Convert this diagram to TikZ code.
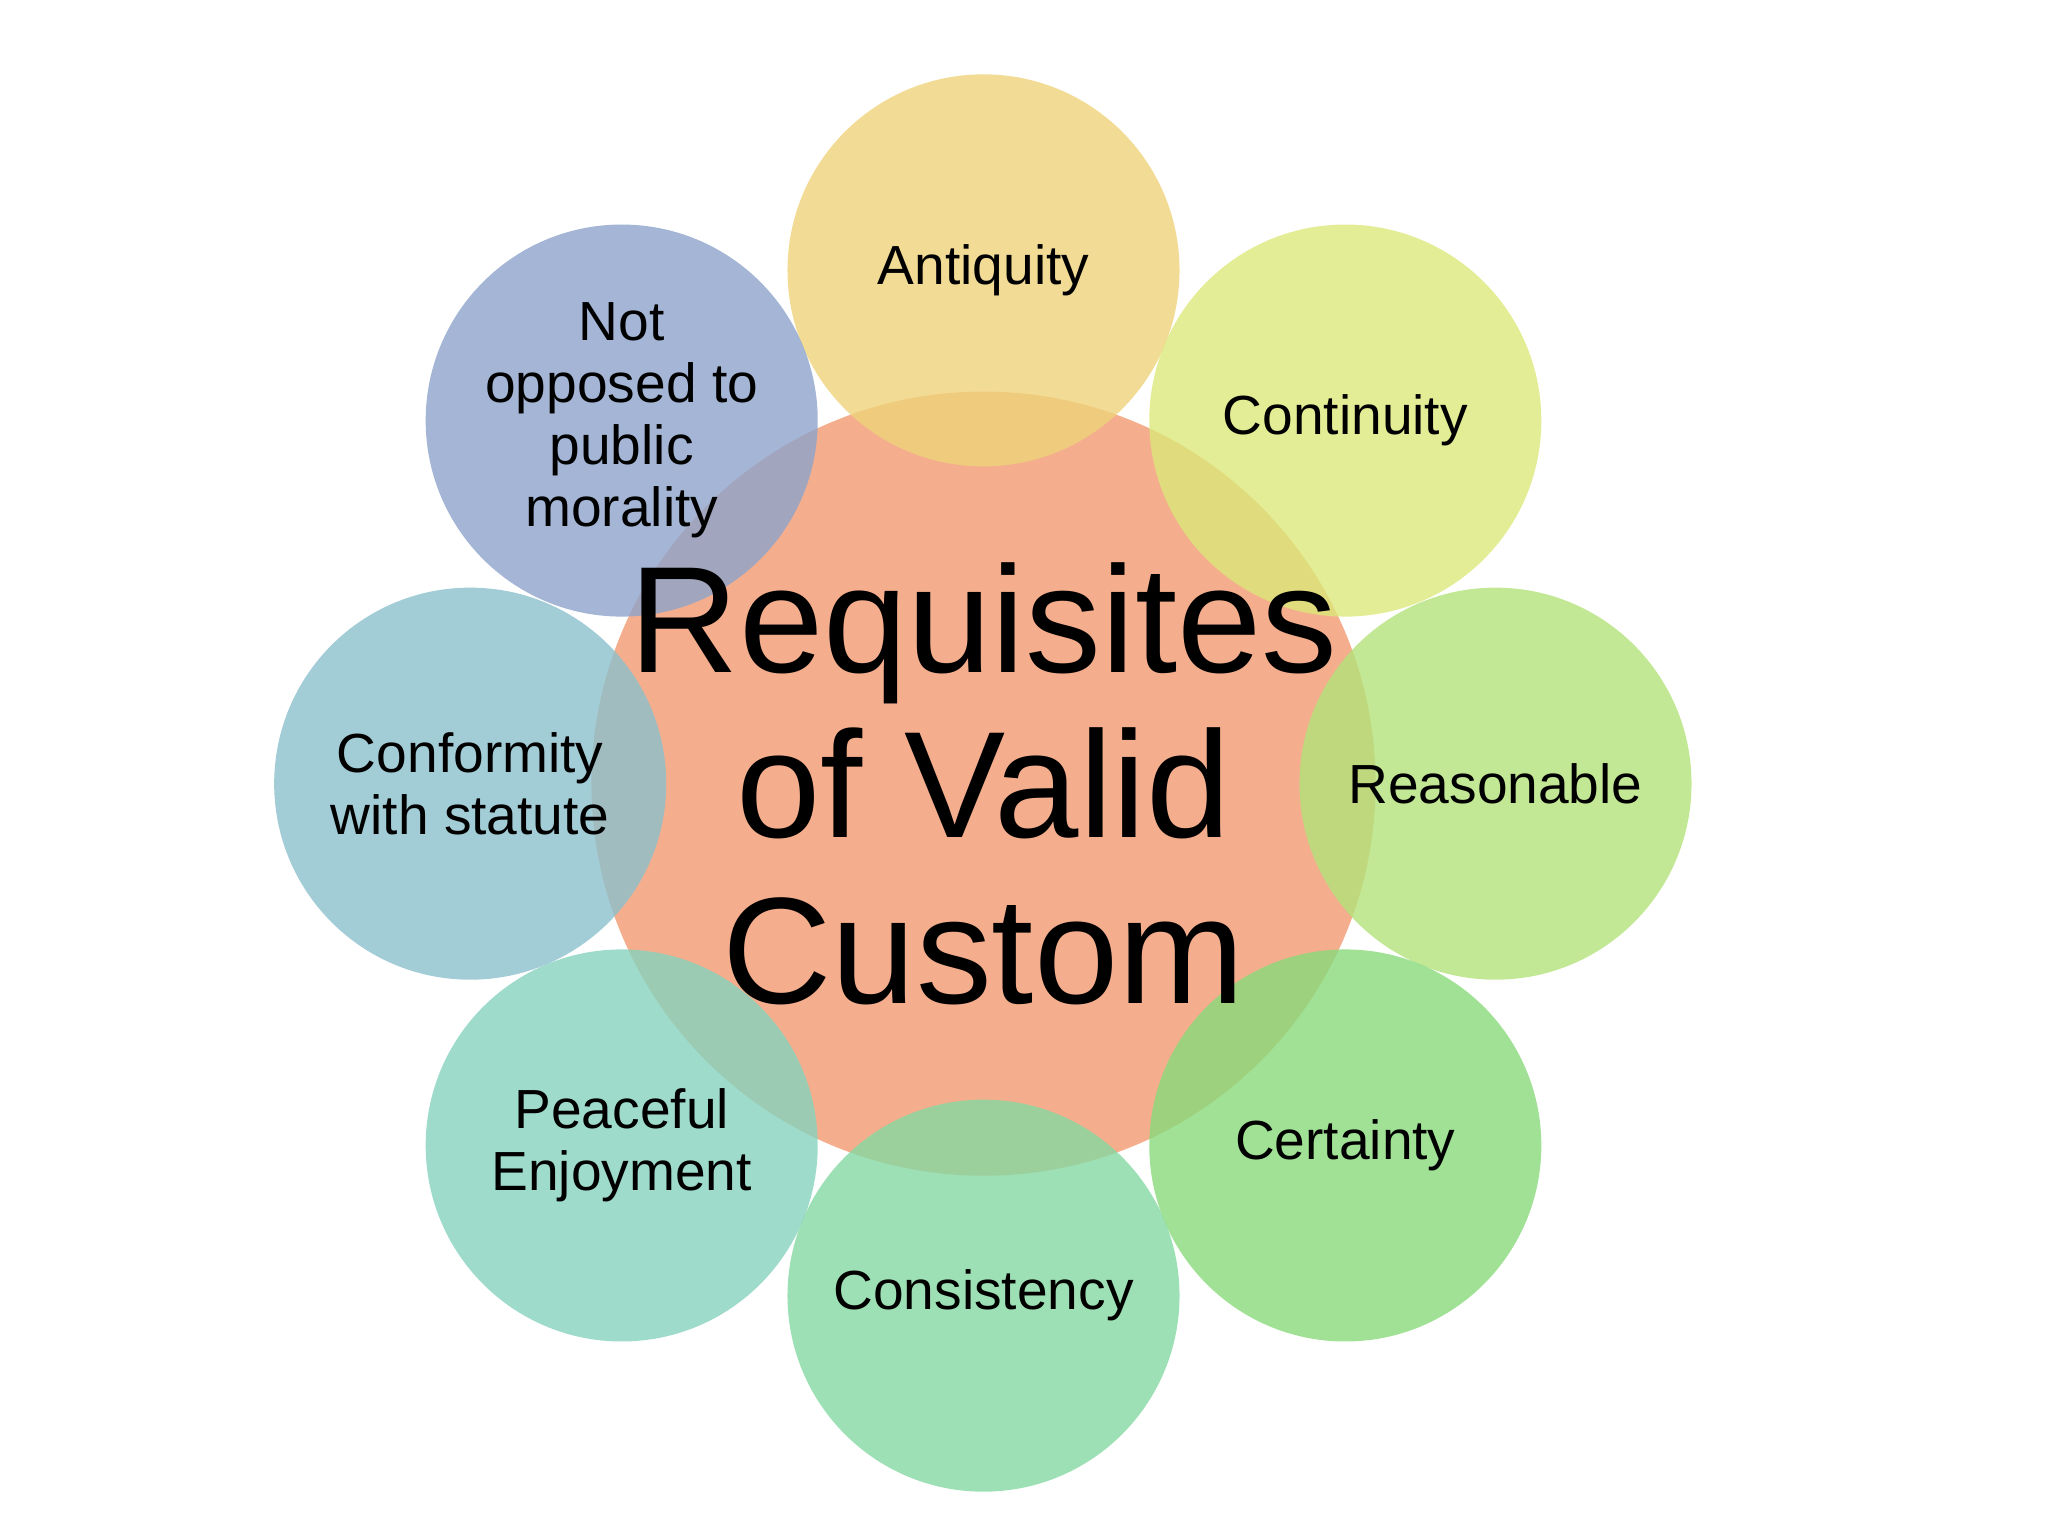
\documentclass[tikz,border=0pt]{standalone}
\usepackage{fontspec}
\setmainfont{Liberation Sans}
\usetikzlibrary{positioning}

\definecolor{hub}{HTML}{F2A079}
\definecolor{cAnt}{HTML}{EFD27A}
\definecolor{cCon}{HTML}{DCE87A}
\definecolor{cRea}{HTML}{B3E27A}
\definecolor{cCer}{HTML}{88DA7A}
\definecolor{cCsy}{HTML}{86D8A2}
\definecolor{cPea}{HTML}{86D2BE}
\definecolor{cCnf}{HTML}{8CC0CC}
\definecolor{cNot}{HTML}{8DA3CA}

\tikzset{
  bubble/.style={circle, minimum size=3cm, inner sep=0pt, fill opacity=0.8, text opacity=1,
    align=center, font=\fontsize{12}{13.5}\selectfont},
  core/.style={circle, minimum size=6cm, fill=hub, fill opacity=0.85}
}

\begin{document}
\begin{tikzpicture}[x=0.01cm, y=-0.01cm]
\useasboundingbox (0,0) rectangle (1568,1176);

\node[core] (hub) at (753,600) {};

\node[bubble, fill=cAnt] (antiquity) at (753,207) {Antiquity};
\node[bubble, fill=cCon] (continuity) at (1030,322) {Continuity};
\node[bubble, fill=cRea] (reasonable) at (1145,600) {Reasonable};
\node[bubble, fill=cCer] (certainty) at (1030,877) {Certainty};
\node[bubble, fill=cCsy] (consistency) at (753,992) {Consistency};
\node[bubble, fill=cPea] (peaceful) at (476,877) {Peaceful\\Enjoyment};
\node[bubble, fill=cCnf] (conformity) at (360,600) {Conformity\\with statute};
\node[bubble, fill=cNot] (morality) at (476,322) {Not\\opposed to\\public\\morality};

% hub text on top of the bubbles
\node[align=center, font=\fontsize{33}{36}\selectfont] (title) at (hub) {Requisites\\of Valid\\Custom};
\end{tikzpicture}
\end{document}
